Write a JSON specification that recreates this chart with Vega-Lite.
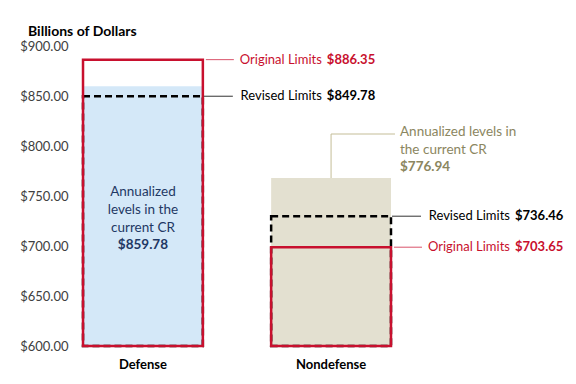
{
  "$schema": "https://vega.github.io/schema/vega-lite/v6.json",
  "autosize": {"type": "none"},
  "padding": {"left": 75, "top": 46, "right": 177, "bottom": 38},
  "width": 324,
  "height": 300,
  "config": {
    "view": {"stroke": null},
    "font": "Lato",
    "text": {"font": "Lato"}
  },
  "title": {
    "text": "Billions of Dollars",
    "anchor": "start",
    "frame": "group",
    "dx": -47,
    "offset": 1,
    "font": "Lato",
    "fontSize": 14,
    "fontWeight": "bold",
    "color": "#000000"
  },
  "data": {
    "values": [
      {"cat": "Defense", "cr": 859.78, "rev": 849.78, "orig": 886.35, "crLabel": "$859.78", "revLabel": "$849.78", "origLabel": "$886.35"},
      {"cat": "Nondefense", "cr": 768.0, "rev": 729.8, "orig": 698.8, "crLabel": "$776.94", "revLabel": "$736.46", "origLabel": "$703.65"}
    ]
  },
  "encoding": {
    "x": {
      "field": "cat", "type": "nominal",
      "scale": {"paddingInner": 0.363, "paddingOuter": 0.0426},
      "axis": {"title": null, "labelAngle": 0, "ticks": false, "domain": false, "labelPadding": 12, "labelFont": "Lato", "labelFontSize": 13, "labelFontWeight": "bold", "labelColor": "#000000"}
    }
  },
  "layer": [
    {
      "mark": {"type": "bar"},
      "encoding": {
        "y": {
          "field": "cr", "type": "quantitative",
          "scale": {"domain": [600, 900], "nice": false, "zero": false},
          "axis": {"title": null, "values": [600, 650, 700, 750, 800, 850, 900], "format": "$.2f", "ticks": false, "domain": false, "grid": false, "labelPadding": 7, "labelFont": "Lato", "labelFontSize": 13, "labelColor": "#404040"}
        },
        "y2": {"datum": 600},
        "color": {"field": "cat", "type": "nominal", "scale": {"range": ["#d4e8f8", "#e3e0d0"]}, "legend": null}
      }
    },
    {
      "mark": {"type": "bar", "fillOpacity": 0, "stroke": "#000000", "strokeWidth": 2.5, "strokeDash": [7, 4]},
      "encoding": {"y": {"field": "rev", "type": "quantitative"}, "y2": {"datum": 600}}
    },
    {
      "mark": {"type": "bar", "fillOpacity": 0, "stroke": "#c8102e", "strokeWidth": 2.5},
      "encoding": {"y": {"field": "orig", "type": "quantitative"}, "y2": {"datum": 600}}
    },
    {
      "mark": {"type": "rule", "color": "#d9536a", "strokeWidth": 1, "xOffset": 3, "x2Offset": 31},
      "encoding": {
        "x": {"field": "cat", "type": "nominal", "bandPosition": 1},
        "x2": {"field": "cat", "bandPosition": 1},
        "y": {"field": "orig", "type": "quantitative"}
      }
    },
    {
      "mark": {"type": "rule", "color": "#333333", "strokeWidth": 1, "xOffset": 1, "x2Offset": 30},
      "encoding": {
        "x": {"field": "cat", "type": "nominal", "bandPosition": 1},
        "x2": {"field": "cat", "bandPosition": 1},
        "y": {"field": "rev", "type": "quantitative"}
      }
    },
    {
      "mark": {"type": "text", "align": "right", "baseline": "middle", "dx": 119, "fontSize": 13, "color": "#c8102e"},
      "encoding": {
        "x": {"field": "cat", "type": "nominal", "bandPosition": 1},
        "y": {"field": "orig", "type": "quantitative"},
        "text": {"value": "Original Limits"}
      }
    },
    {
      "mark": {"type": "text", "align": "left", "baseline": "middle", "dx": 124, "fontSize": 13, "fontWeight": "bold", "color": "#c8102e"},
      "encoding": {
        "x": {"field": "cat", "type": "nominal", "bandPosition": 1},
        "y": {"field": "orig", "type": "quantitative"},
        "text": {"field": "origLabel"}
      }
    },
    {
      "mark": {"type": "text", "align": "right", "baseline": "middle", "dx": 119, "fontSize": 13, "color": "#000000"},
      "encoding": {
        "x": {"field": "cat", "type": "nominal", "bandPosition": 1},
        "y": {"field": "rev", "type": "quantitative"},
        "text": {"value": "Revised Limits"}
      }
    },
    {
      "mark": {"type": "text", "align": "left", "baseline": "middle", "dx": 124, "fontSize": 13, "fontWeight": "bold", "color": "#000000"},
      "encoding": {
        "x": {"field": "cat", "type": "nominal", "bandPosition": 1},
        "y": {"field": "rev", "type": "quantitative"},
        "text": {"field": "revLabel"}
      }
    },
    {
      "transform": [{"filter": "datum.cat === 'Defense'"}],
      "mark": {"type": "text", "align": "center", "baseline": "middle", "dy": 106, "fontSize": 13.5, "lineHeight": 18, "color": "#1f3864"},
      "encoding": {
        "x": {"field": "cat", "type": "nominal"},
        "y": {"field": "cr", "type": "quantitative"},
        "text": {"value": ["Annualized", "levels in the", "current CR"]}
      }
    },
    {
      "transform": [{"filter": "datum.cat === 'Defense'"}],
      "mark": {"type": "text", "align": "center", "baseline": "middle", "dy": 159, "fontSize": 13.5, "fontWeight": "bold", "color": "#1f3864"},
      "encoding": {
        "x": {"field": "cat", "type": "nominal"},
        "y": {"field": "cr", "type": "quantitative"},
        "text": {"field": "crLabel"}
      }
    },
    {
      "transform": [{"filter": "datum.cat === 'Nondefense'"}],
      "mark": {"type": "rule", "color": "#c4bd97", "strokeWidth": 1, "y2Offset": -44},
      "encoding": {
        "x": {"field": "cat", "type": "nominal"},
        "y": {"field": "cr", "type": "quantitative"},
        "y2": {"field": "cr"}
      }
    },
    {
      "transform": [{"filter": "datum.cat === 'Nondefense'"}],
      "mark": {"type": "rule", "color": "#c4bd97", "strokeWidth": 1, "yOffset": -44, "x2Offset": 4},
      "encoding": {
        "x": {"field": "cat", "type": "nominal"},
        "x2": {"field": "cat", "bandPosition": 1},
        "y": {"field": "cr", "type": "quantitative"}
      }
    },
    {
      "transform": [{"filter": "datum.cat === 'Nondefense'"}],
      "mark": {"type": "text", "align": "left", "baseline": "middle", "dx": 9, "dy": -46, "fontSize": 13.5, "lineHeight": 18, "color": "#8b8660"},
      "encoding": {
        "x": {"field": "cat", "type": "nominal", "bandPosition": 1},
        "y": {"field": "cr", "type": "quantitative"},
        "text": {"value": ["Annualized levels in", "the current CR"]}
      }
    },
    {
      "transform": [{"filter": "datum.cat === 'Nondefense'"}],
      "mark": {"type": "text", "align": "left", "baseline": "middle", "dx": 9, "dy": -11, "fontSize": 13.5, "fontWeight": "bold", "color": "#8b8660"},
      "encoding": {
        "x": {"field": "cat", "type": "nominal", "bandPosition": 1},
        "y": {"field": "cr", "type": "quantitative"},
        "text": {"field": "crLabel"}
      }
    }
  ]
}
